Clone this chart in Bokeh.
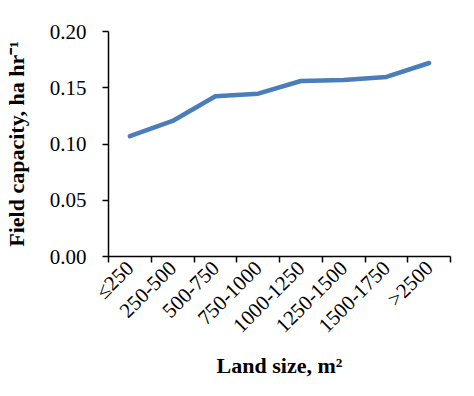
import math
from bokeh.plotting import figure
from bokeh.models import FixedTicker, Range1d, NumeralTickFormatter
from bokeh.embed import file_html
from bokeh.resources import INLINE

categories = ["≤250", "250-500", "500-750", "750-1000", "1000-1250", "1250-1500", "1500-1750", ">2500"]
field_capacity = [0.107, 0.1205, 0.1424, 0.1447, 0.156, 0.1568, 0.1596, 0.172]
y_ticks = [0.0, 0.05, 0.10, 0.15, 0.20]

xs = [i + 0.5 for i in range(len(categories))]
FONT = "Liberation Serif"

p = figure(width=458, height=380, output_backend="svg", toolbar_location=None,
           x_range=Range1d(0, len(categories)), y_range=Range1d(0, 0.2),
           min_border_left=107, min_border_right=8, min_border_top=31, min_border_bottom=121)
p.outline_line_color = None
p.grid.grid_line_color = None
p.background_fill_color = "white"

p.line(xs, field_capacity, line_color="#4A7EBB", line_width=4.5, line_join="round", line_cap="round")

xa = p.xaxis[0]
xa.ticker = FixedTicker(ticks=xs, minor_ticks=list(range(len(categories) + 1)))
xa.major_label_overrides = {x: c for x, c in zip(xs, categories)}
xa.major_tick_out = 0
xa.major_tick_in = 0
xa.minor_tick_out = 6
xa.minor_tick_in = 0
xa.minor_tick_line_color = "black"
xa.minor_tick_line_width = 1.5
xa.axis_line_color = "black"
xa.axis_line_width = 1.5
xa.major_label_orientation = math.pi / 4
xa.major_label_text_font = FONT
xa.major_label_text_font_size = "21px"
xa.major_label_text_color = "black"
xa.major_label_standoff = 2
xa.axis_label = "Land size, m²"
xa.axis_label_text_font = FONT
xa.axis_label_text_font_style = "bold"
xa.axis_label_text_font_size = "22px"
xa.axis_label_text_color = "black"
xa.axis_label_standoff = 4

ya = p.yaxis[0]
ya.ticker = FixedTicker(ticks=y_ticks)
ya.formatter = NumeralTickFormatter(format="0.00")
ya.major_tick_out = 6
ya.major_tick_in = 0
ya.minor_tick_out = 0
ya.minor_tick_in = 0
ya.major_tick_line_width = 1.5
ya.axis_line_color = "black"
ya.axis_line_width = 1.5
ya.major_label_text_font = FONT
ya.major_label_text_font_size = "21px"
ya.major_label_text_color = "black"
ya.major_label_standoff = 16
ya.axis_label = "Field capacity, ha hr⁻¹"
ya.axis_label_text_font = FONT
ya.axis_label_text_font_style = "bold"
ya.axis_label_text_font_size = "22px"
ya.axis_label_text_color = "black"
ya.axis_label_standoff = 18

open("out.html", "w").write(file_html(p, INLINE))
